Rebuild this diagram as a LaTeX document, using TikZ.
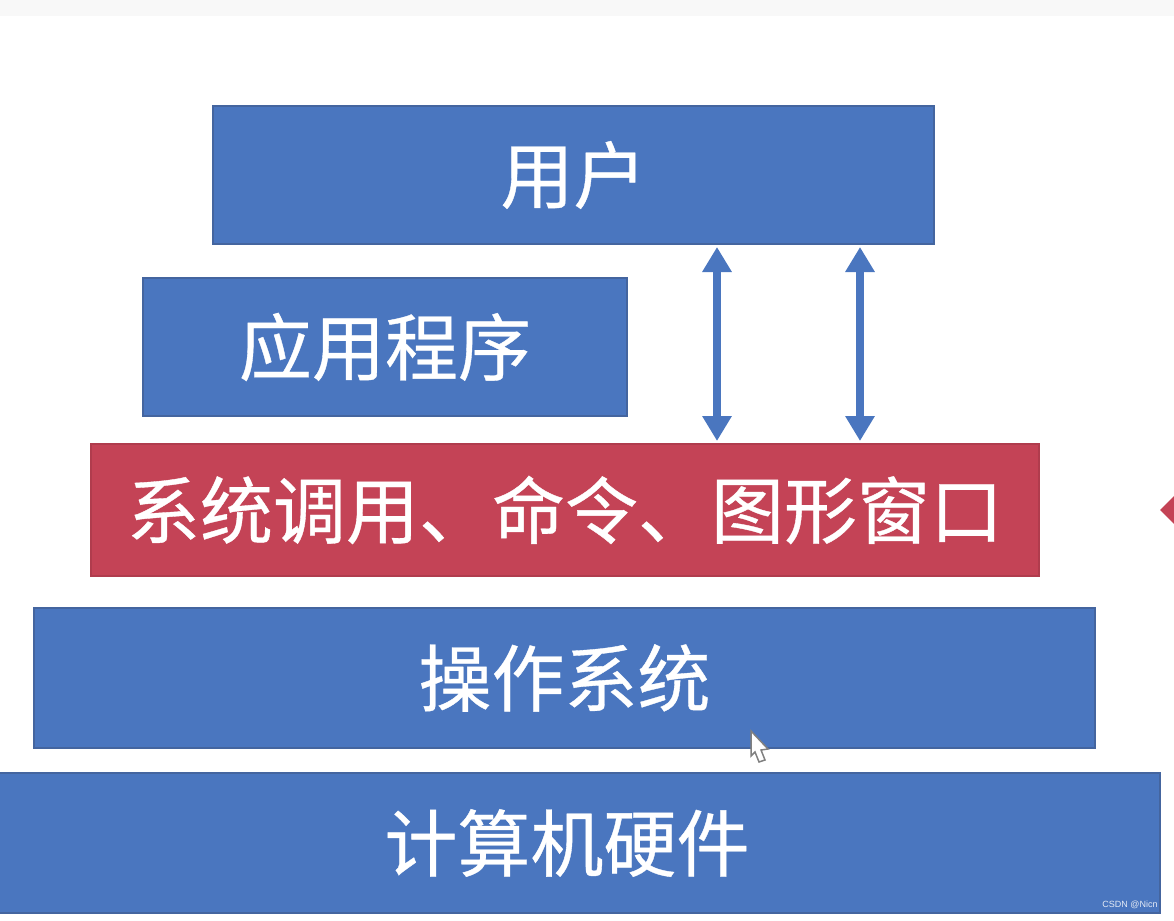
\documentclass[tikz,border=0pt]{standalone}
\usepackage{fontspec}
\usetikzlibrary{arrows.meta,shapes.geometric}
\newfontfamily\cjk[FakeBold=0.5]{Noto Sans CJK SC}
\setmainfont{Liberation Sans}
\definecolor{layerblue}{HTML}{4A76BF}
\definecolor{layeredge}{HTML}{44659F}
\definecolor{layerred}{HTML}{C44356}
\definecolor{barband}{HTML}{F8F8F8}
\tikzset{
  layer/.style={draw=layeredge,fill=layerblue,line width=2pt,text=white,inner sep=0pt,outer sep=0pt,
    font=\cjk\fontsize{73}{80}\selectfont},
  redlayer/.style={layer,draw=layerred!90!black,fill=layerred},
  biarrow/.style={{Triangle[width=28pt,length=25pt]}-{Triangle[width=28pt,length=25pt]},line width=8pt,color=layerblue,shorten >=3pt,shorten <=3pt}
}
\begin{document}
\begin{tikzpicture}[x=1pt,y=-1pt]
\useasboundingbox (0,0) rectangle (1174,920);
\clip (0,0) rectangle (1174,920);
% Top band
\node[fill=barband,minimum width=1174pt,minimum height=16pt,inner sep=0pt,outer sep=0pt] (band) at (587,8) {};
% Layers
\node[layer,minimum width=721pt,minimum height=138pt] (user) at (573.5,175) {用户};
\node[layer,minimum width=484pt,minimum height=138pt] (app) at (385,347) {应用程序};
\node[redlayer,minimum width=948pt,minimum height=132pt] (sys) at (565,510) {系统调用、命令、图形窗口};
\node[layer,minimum width=1061pt,minimum height=140pt] (os) at (564.5,678) {操作系统};
\node[layer,minimum width=1186pt,minimum height=140pt] (hw) at (567,843) {\raisebox{-2pt}{计算机硬件}};
% Red mark at the edge
\node[diamond,aspect=1,fill=layerred,inner sep=0pt,minimum size=50pt] (mark) at (1185,510) {};
% Arrows
\coordinate (left) at (717,0);
\coordinate (right) at (860,0);
\draw[biarrow] (left |- user.south) -- (left |- sys.north);
\draw[biarrow] (right |- user.south) -- (right |- sys.north);
% Cursor
\fill[white,draw=gray,line width=1.5pt] (751,731) -- (768,749) -- (761,750) -- (765,760) -- (759,762) -- (755,752) -- (751,756) -- cycle;
% Watermark
\node[text=white!85!layerblue,font=\fontsize{9}{10}\selectfont,inner sep=0pt] (mark text) at (1130,905) {CSDN @Nicn};
\end{tikzpicture}
\end{document}
